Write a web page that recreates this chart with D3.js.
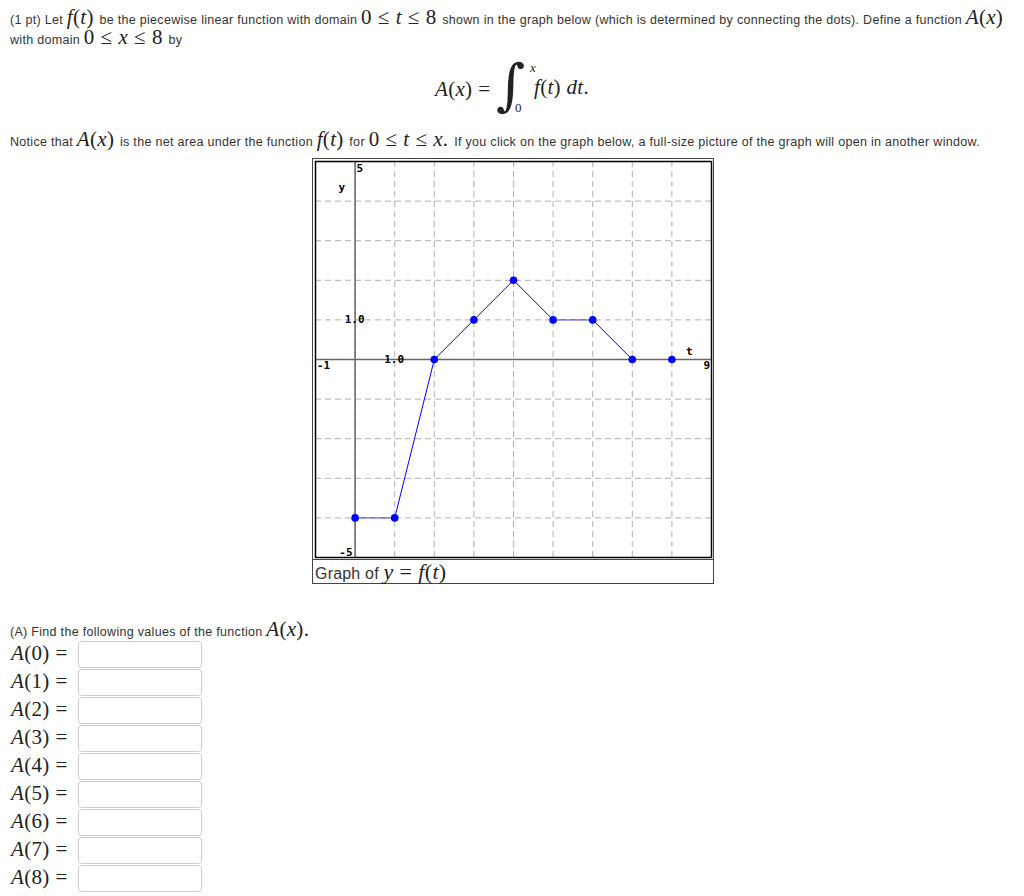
<!DOCTYPE html>
<meta charset="utf-8">
<style>
body { margin: 0; background: #fff; }
.txt { font-family: "Liberation Sans", Arial, sans-serif; font-size: 12.5px; letter-spacing: 0.3px; fill: #333; }
.mth { font-family: "Liberation Serif", "Times New Roman", serif; font-size: 21px; letter-spacing: 0.3px; fill: #222; }
.it { font-style: italic; }
.lbl { font-family: "DejaVu Sans Mono", monospace; font-size: 11px; font-weight: bold; fill: #000; letter-spacing: 0; }
.grid line { stroke: #b0b0b0; stroke-width: 1; stroke-dasharray: 6,4; }
</style>
<body>
<script src="https://d3js.org/d3.v7.min.js"></script>
<script>
// f(t) dots
var tVals = [0, 1, 2, 3, 4, 5, 6, 7, 8];
var fVals = [-4, -4, 0, 1, 2, 1, 1, 0, 0];

// grid / window
var xDomain = [-1, 9];
var yDomain = [-5, 5];
var xGrid = [0, 1, 2, 3, 4, 5, 6, 7, 8];
var yGrid = [-4, -3, -2, -1, 0, 1, 2, 3, 4];

// A(x) rows asked for
var argVals = [0, 1, 2, 3, 4, 5, 6, 7, 8];

var svg = d3.select("body").append("svg")
    .attr("width", 1024)
    .attr("height", 896);

// write a line of mixed text; math pieces are {m: "..."}
function mathInto(t, s) {
  var rel = "≤=";
  s.split("").forEach(function(c, i) {
    var sp = t.append("tspan").attr("class", "mth").text(c);
    if (/[a-zA-Z]/.test(c)) sp.classed("it", true);
    if (rel.indexOf(c) >= 0) sp.attr("dx", 6);
    if (i > 0 && rel.indexOf(s[i - 1]) >= 0) sp.attr("dx", 6);
  });
}
function line(x, y, parts) {
  var t = svg.append("text")
      .attr("class", "txt")
      .attr("x", x).attr("y", y)
      .attr("xml:space", "preserve")
      .style("white-space", "pre");
  parts.forEach(function(p, i) {
    if (typeof p === "string") {
      var sp = t.append("tspan").text(p);
      if (i > 0) sp.attr("dx", 2);
    }
    else mathInto(t, p.m);
  });
  return t;
}

line(10, 24, ["(1 pt) Let ", {m: "f(t)"}, " be the piecewise linear function with domain ", {m: "0≤t≤8"},
  " shown in the graph below (which is determined by connecting the dots). Define a function ", {m: "A(x)"}]);
line(10, 44, ["with domain ", {m: "0≤x≤8"}, " by"]);

// the integral
line(435, 96, [{m: "A(x)="}]);
svg.append("text")
    .attr("x", 496).attr("y", 104)
    .style("font-family", "DejaVu Serif, serif")
    .style("font-style", "italic")
    .style("font-size", "56px")
    .style("fill", "#222")
    .text("∫");
svg.append("text").attr("class", "mth it").attr("x", 530).attr("y", 72).style("font-size", "13px").text("x");
svg.append("text").attr("class", "mth").attr("x", 515).attr("y", 112).style("font-size", "13px").text("0");
line(534, 94, [{m: "f(t) dt."}]);

line(10, 146, ["Notice that ", {m: "A(x)"}, " is the net area under the function ", {m: "f(t)"}, " for ", {m: "0≤t≤x."},
  " If you click on the graph below, a full-size picture of the graph will open in another window."]);

// ---- graph ----
var x = d3.scaleLinear().domain(xDomain).range([315, 711]);
var y = d3.scaleLinear().domain(yDomain).range([557, 161]);

// frame around image + caption
svg.append("rect")
    .attr("x", 312.5).attr("y", 158.5)
    .attr("width", 401).attr("height", 425)
    .attr("fill", "#fff").attr("stroke", "#444");
svg.append("line")
    .attr("x1", 312.5).attr("x2", 713.5)
    .attr("y1", 559.5).attr("y2", 559.5)
    .attr("stroke", "#444");

var g = svg.append("g");

// blue polyline (grid drawn over it, like the original image)
var pts = tVals.map(function(t, i) { return [t, fVals[i]]; });
g.append("path")
    .datum(pts)
    .attr("fill", "none")
    .attr("stroke", "#0000ff")
    .attr("stroke-width", 1)
    .attr("d", d3.line().x(function(d) { return x(d[0]) + 0.5; }).y(function(d) { return y(d[1]) + 0.5; }));

var grid = g.append("g").attr("class", "grid");
grid.selectAll(".vx").data(xGrid).enter().append("line")
    .attr("x1", function(d) { return x(d) + 0.5; })
    .attr("x2", function(d) { return x(d) + 0.5; })
    .attr("y1", y(yDomain[1])).attr("y2", y(yDomain[0]));
grid.selectAll(".hy").data(yGrid).enter().append("line")
    .attr("y1", function(d) { return y(d) + 0.5; })
    .attr("y2", function(d) { return y(d) + 0.5; })
    .attr("x1", x(xDomain[0])).attr("x2", x(xDomain[1]));

// axes
g.append("line")
    .attr("x1", x(0) + 0.5).attr("x2", x(0) + 0.5)
    .attr("y1", y(yDomain[1])).attr("y2", y(yDomain[0]))
    .attr("stroke", "#666").attr("stroke-width", 1.5);
g.append("line")
    .attr("x1", x(xDomain[0])).attr("x2", x(xDomain[1]))
    .attr("y1", y(0) + 0.5).attr("y2", y(0) + 0.5)
    .attr("stroke", "#666").attr("stroke-width", 1.5);

// image border
g.append("rect")
    .attr("x", x(xDomain[0]) + 0.5).attr("y", y(yDomain[1]) + 0.5)
    .attr("width", x(xDomain[1]) - x(xDomain[0]))
    .attr("height", y(yDomain[0]) - y(yDomain[1]))
    .attr("fill", "none").attr("stroke", "#000").attr("stroke-width", 1.5);

// dots
g.selectAll(".dot").data(pts).enter().append("circle")
    .attr("cx", function(d) { return x(d[0]) + 0.5; })
    .attr("cy", function(d) { return y(d[1]) + 0.5; })
    .attr("r", 3.8)
    .attr("fill", "#0000ff");

// axis labels
function lbl(px, py, s, anchor) {
  g.append("text").attr("class", "lbl")
      .attr("x", px).attr("y", py)
      .attr("text-anchor", anchor || "start")
      .text(s);
}
lbl(x(0) + 2, y(yDomain[1]) + 11, String(yDomain[1]));
lbl(x(0) - 2, y(yDomain[0]) - 1, String(yDomain[0]), "end");
lbl(x(xDomain[0]) + 2, y(0) + 10, String(xDomain[0]));
lbl(x(xDomain[1]) - 1, y(0) + 10, String(xDomain[1]), "end");
lbl(x(0) - 16, y(yDomain[1]) + 30, "y");
lbl(x(xDomain[1]) - 25, y(0) - 4, "t");
lbl(x(0), y(1) + 4, "1.0", "middle");
lbl(x(1), y(0) + 4, "1.0", "middle");

// caption
var cap = line(315, 579, ["Graph of ", {m: "y=f(t)"}]);
cap.style("font-size", "16px").style("letter-spacing", "0.2px");
cap.selectAll("tspan.mth").style("font-size", "22px");

// ---- part A ----
line(10, 636, ["(A) Find the following values of the function ", {m: "A(x)."}]);

var rowY = d3.scaleLinear().domain([0, 1]).range([641, 669]);
var rows = svg.selectAll(".row").data(argVals).enter().append("g");
rows.append("rect")
    .attr("x", 78.5).attr("y", function(d) { return rowY(d) + 0.5; })
    .attr("width", 123).attr("height", 26).attr("rx", 3)
    .attr("fill", "#fff").attr("stroke", "#ccc");
rows.each(function(d) {
  line(11, rowY(d) + 19, [{m: "A(" + d + ")="}]);
});
</script>
</body>
